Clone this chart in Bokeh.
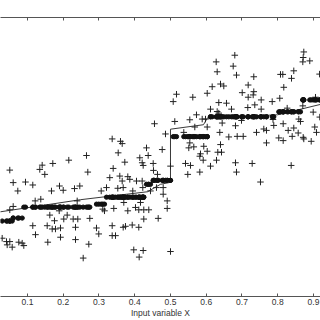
import numpy as np
from bokeh.plotting import figure
from bokeh.models import Range1d, LinearAxis, FixedTicker
from bokeh.embed import file_html
from bokeh.resources import INLINE

# Observed samples (input X, output Y)
x_in = [0.0505, 0.1411, 0.1344, 0.1708, 0.2155, 0.1484, 0.0600, 0.0944, 0.1148, 0.0729,
        0.1895, 0.1999, 0.2315, 0.2463, 0.1671, 0.1215, 0.1372, 0.0600, 0.0505, 0.2390,
        0.1624, 0.1887, 0.2110, 0.2015, 0.2278, 0.2407, 0.1755, 0.1148, 0.1551, 0.1691,
        0.1783, 0.1224, 0.1923, 0.1923, 0.2343, 0.2343, 0.1568, 0.0292, 0.0413, 0.0505,
        0.0432, 0.0572, 0.0757, 0.0852, 0.0897, 0.4552, 0.3369, 0.3601, 0.3649, 0.2650,
        0.3537, 0.4329, 0.4141, 0.4208, 0.4236, 0.4376, 0.3722, 0.4516, 0.2687, 0.3397,
        0.3302, 0.3582, 0.3649, 0.3806, 0.3862, 0.4049, 0.4208, 0.3062, 0.3210, 0.3526,
        0.3677, 0.3945, 0.4225, 0.4440, 0.4608, 0.3694, 0.4161, 0.3106, 0.3154, 0.3414,
        0.3806, 0.4021, 0.4113, 0.4253, 0.4393, 0.2743, 0.4253, 0.4656, 0.2930, 0.2994,
        0.3369, 0.3677, 0.3741, 0.3929, 0.4113, 0.3369, 0.3462, 0.2715, 0.2558, 0.3973,
        0.4236, 0.4124, 0.4524, 0.4636, 0.6799, 0.6278, 0.6754, 0.6306, 0.6846, 0.6166,
        0.6399, 0.6491, 0.5168, 0.5076, 0.5624, 0.6027, 0.6351, 0.6566, 0.6119, 0.6306,
        0.6351, 0.6706, 0.5727, 0.5887, 0.5979, 0.5540, 0.5120, 0.6446, 0.6818, 0.5680,
        0.6027, 0.4860, 0.5372, 0.6631, 0.6866, 0.6379, 0.4768, 0.5540, 0.5512, 0.5652,
        0.5931, 0.6027, 0.5839, 0.5820, 0.5915, 0.6399, 0.6427, 0.6323, 0.6287, 0.5000,
        0.5420, 0.5559, 0.6119, 0.6818, 0.5484, 0.5820, 0.6846, 0.4796, 0.4796, 0.4908,
        0.4908, 0.5000, 0.8729, 0.8712, 0.8701, 0.8896, 0.7330, 0.8077, 0.8141, 0.8449,
        0.8385, 0.7173, 0.8169, 0.7006, 0.7330, 0.7313, 0.7173, 0.7537, 0.7845, 0.8057,
        0.7358, 0.7162, 0.7537, 0.8264, 0.6986, 0.7867, 0.7889, 0.8589, 0.8636, 0.8992,
        0.9176, 0.8152, 0.9036, 0.7406, 0.7610, 0.7685, 0.8292, 0.8449, 0.7034, 0.8572,
        0.8712, 0.8729, 0.8404, 0.8029, 0.8152, 0.7685, 0.8936, 0.7285, 0.8376, 0.7517,
        0.9170, 0.9056, 0.8701, 0.9084]
y_out = [1.273, 1.323, 1.280, 1.340, 1.373, 1.230, 1.147, 1.153, 1.123, 1.063,
         1.113, 1.070, 1.087, 1.113, 1.063, 0.963, 0.980, 0.907, 0.873, 0.963,
         0.820, 0.863, 0.820, 0.780, 0.780, 0.780, 0.763, 0.713, 0.713, 0.680,
         0.680, 0.623, 0.690, 0.597, 0.697, 0.573, 0.547, 0.587, 0.553, 0.553,
         0.520, 0.497, 0.547, 0.537, 0.513, 1.740, 1.587, 1.563, 1.540, 1.420,
         1.447, 1.497, 1.397, 1.347, 1.320, 1.420, 1.353, 1.340, 1.253, 1.290,
         1.197, 1.213, 1.163, 1.207, 1.180, 1.163, 1.163, 1.063, 1.097, 1.090,
         1.097, 1.063, 1.097, 1.063, 1.097, 0.947, 0.947, 0.880, 0.863, 0.887,
         0.863, 0.897, 0.873, 0.873, 0.873, 0.787, 0.780, 0.787, 0.690, 0.630,
         0.713, 0.697, 0.707, 0.720, 0.697, 0.613, 0.613, 0.527, 0.387, 0.470,
         0.463, 0.397, 1.270, 1.230, 2.430, 2.363, 2.320, 2.263, 2.230, 2.113,
         2.140, 2.120, 2.037, 1.963, 2.007, 2.047, 1.953, 1.947, 1.887, 1.863,
         1.847, 1.887, 1.830, 1.787, 1.787, 1.780, 1.763, 1.747, 1.720, 1.707,
         1.707, 1.637, 1.653, 1.607, 1.613, 1.653, 1.480, 1.547, 1.497, 1.507,
         1.513, 1.463, 1.437, 1.413, 1.373, 1.530, 1.453, 1.453, 1.373, 1.313,
         1.340, 1.320, 1.313, 1.347, 1.230, 1.253, 1.253, 1.097, 1.030, 0.963,
         0.887, 0.453, 2.463, 2.407, 2.363, 2.373, 2.213, 2.237, 2.237, 2.273,
         2.197, 2.130, 2.107, 2.053, 2.063, 2.030, 2.007, 1.980, 1.963, 1.997,
         1.930, 1.903, 1.887, 1.897, 1.773, 1.783, 1.723, 1.787, 1.763, 1.857,
         1.807, 1.740, 1.707, 1.653, 1.687, 1.673, 1.673, 1.697, 1.613, 1.647,
         1.603, 1.587, 1.613, 1.597, 1.570, 1.547, 1.563, 1.340, 1.320, 1.153,
         2.240, 2.007, 1.920, 1.653]

# Piecewise-constant model (split points on X and leaf values)
tree_splits = [0.058, 0.087, 0.282, 0.317, 0.430, 0.447, 0.501, 0.6035, 0.802, 0.869]
tree_levels = [0.76, 0.79, 0.90, 0.93, 1.00, 1.13, 1.17, 1.61, 1.81, 1.86, 1.98]

# Reference curve
curve_x = [0.0, 0.2483, 0.3182, 0.4357, 0.472, 0.5, 0.5, 0.5923, 0.6035, 0.7993, 1.0]
curve_y = [0.84, 0.975, 1.005, 1.055, 1.13, 1.15, 1.685, 1.73, 1.80, 1.83, 2.005]

x_ticks = [0.0, 0.1, 0.2, 0.3, 0.4, 0.5, 0.6, 0.7, 0.8, 0.9, 1.0]

pred_y = [tree_levels[i] for i in np.searchsorted(tree_splits, x_in, side="right")]

p = figure(width=320, height=320, output_backend="svg", toolbar_location=None,
           x_range=Range1d(0.0245, 0.9196), y_range=Range1d(0.0, 2.81),
           min_border_left=0, min_border_right=0, min_border_top=17, min_border_bottom=22,
           x_axis_location=None, y_axis_location=None)
p.outline_line_color = None
p.xgrid.visible = False
p.ygrid.visible = False
p.background_fill_color = "white"
p.border_fill_color = "white"

ax_col = "#555555"
txt_col = "#333333"

bottom = LinearAxis(ticker=FixedTicker(ticks=x_ticks), axis_label="Input variable X")
bottom.axis_line_color = ax_col
bottom.major_tick_line_color = ax_col
bottom.major_tick_in = 3
bottom.major_tick_out = 0
bottom.minor_tick_line_color = None
bottom.major_label_standoff = 2
bottom.major_label_text_font = "Liberation Sans"
bottom.major_label_text_font_size = "8.5px"
bottom.major_label_text_color = txt_col
bottom.axis_label_standoff = 0
bottom.axis_label_text_font = "Liberation Sans"
bottom.axis_label_text_font_size = "8.5px"
bottom.axis_label_text_font_style = "normal"
bottom.axis_label_text_color = txt_col
p.add_layout(bottom, "below")

top = LinearAxis(ticker=FixedTicker(ticks=x_ticks))
top.axis_line_color = ax_col
top.major_tick_line_color = ax_col
top.major_tick_in = 3
top.major_tick_out = 0
top.minor_tick_line_color = None
top.major_label_overrides = {t: "" for t in x_ticks}
top.major_label_standoff = 0
p.add_layout(top, "above")

p.line(curve_x, curve_y, line_color="#222222", line_width=0.9)
p.scatter(x_in, y_out, marker="cross", size=6.5, line_color="#222222", line_width=1)
p.scatter(x_in, pred_y, marker="circle", size=4.3, fill_color="#111111", line_color="#111111")

open("out.html", "w").write(file_html(p, INLINE))
